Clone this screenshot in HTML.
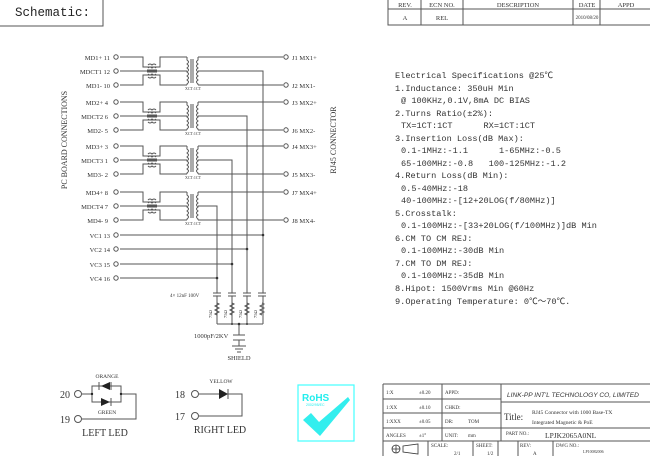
<!DOCTYPE html>
<html><head><meta charset="utf-8"><style>
html,body{margin:0;padding:0;background:#fff;}
svg{display:block;}
text{font-family:"Liberation Serif","Noto Serif CJK SC",serif;fill:#333;white-space:pre;}
text.m, .m text{font-family:"Liberation Mono","Noto Sans CJK SC",monospace;}
text.s{font-family:"Liberation Sans",sans-serif;}
</style></head><body>
<svg width="650" height="456" viewBox="0 0 650 456" xmlns="http://www.w3.org/2000/svg">
<defs>
<g id="pair" fill="none" stroke="#555" stroke-width="1">
  <path d="M120 0 H143 V10 H160 V0 H187"/>
  <path d="M120 28 H143 V18 H160 V28 H187"/>
  <path d="M120 14 H187"/>
  <path d="M148 8 q2 -2 4 0 q2 -2 4 0 M148 11 q2 -2 4 0 q2 -2 4 0 M148 17 q2 2 4 0 q2 2 4 0 M148 20 q2 2 4 0 q2 2 4 0"/>
  <path d="M147 13 H157 M147 15 H157"/>
  <path d="M187 0 V3 q3 2 0 4 q3 2 0 4 q3 2 0 4 q3 2 0 4 q3 2 0 4 q3 2 0 4 V28"/>
  <path d="M191 2 V26 M193 2 V26"/>
  <path d="M198 0 V3 q-3 2 0 4 q-3 2 0 4 q-3 2 0 4 q-3 2 0 4 q-3 2 0 4 q-3 2 0 4 V28"/>
  <circle cx="116" cy="0" r="2.2" fill="#fff"/>
  <circle cx="116" cy="14" r="2.2" fill="#fff"/>
  <circle cx="116" cy="28" r="2.2" fill="#fff"/>
</g>
</defs>
<rect x="-1" y="-1" width="104" height="27" fill="none" stroke="#555"/>
<text x="15" y="16" class="m" font-size="12.5" style="fill:#222">Schematic:</text>

<g stroke="#555" fill="none" stroke-width="1">
<path d="M388 0 V25 H650 M388 9 H650 M421 0 V25 M463 0 V25 M573 0 V25 M600 0 V25"/>
</g>
<g font-size="6.5" text-anchor="middle">
<text x="405" y="7">REV.</text><text x="442" y="7">ECN NO.</text><text x="518" y="7">DESCRIPTION</text><text x="587" y="7">DATE</text><text x="626" y="7">APPD</text>
<text x="405" y="20">A</text><text x="442" y="20">REL</text><text x="587" y="19" font-size="5">2010/08/20</text>
</g>

<use href="#pair" transform="translate(0,57)"/>
<use href="#pair" transform="translate(0,102)"/>
<use href="#pair" transform="translate(0,146)"/>
<use href="#pair" transform="translate(0,192)"/>
<g font-size="4" text-anchor="middle"><text x="193" y="90">XCT:1CT</text><text x="193" y="135">XCT:1CT</text><text x="193" y="179">XCT:1CT</text><text x="193" y="225">XCT:1CT</text></g>

<g fill="none" stroke="#555" stroke-width="1">
<path d="M198 57 H283 M198 85 H283 M198 102 H283 M198 130 H283 M198 146 H283 M198 174 H283 M198 192 H283 M198 220 H283"/>
<path d="M198 71 H263 V324 M198 116 H247 V324 M198 160 H232 V324 M198 206 H217 V324"/>
<path d="M120 235 H263 M120 249 H247 M120 264 H232 M120 278 H217"/>
<path d="M217 324 H263 M239 324 V335 M239 340 V346 M233 335 H245 M233 340 H245 M232 346 H246 M235 349 H243 M237 352 H241"/>
<path d="M213 293 H221 M213 296 H221 M228 293 H236 M228 296 H236 M243 293 H251 M243 296 H251 M258 293 H266 M258 296 H266"/>
</g>
<rect x="214" y="293.6" width="52" height="1.8" fill="#fff"/>
<g fill="none" stroke="#555" stroke-width="1">
<path d="M217 303 l2 1 l-4 2 l4 2 l-4 2 l4 2 l-4 2 l2 1"/>
<path d="M232 303 l2 1 l-4 2 l4 2 l-4 2 l4 2 l-4 2 l2 1"/>
<path d="M247 303 l2 1 l-4 2 l4 2 l-4 2 l4 2 l-4 2 l2 1"/>
<path d="M262 303 l2 1 l-4 2 l4 2 l-4 2 l4 2 l-4 2 l2 1"/>
</g>
<g fill="#333"><circle cx="263" cy="235" r="1.3"/><circle cx="247" cy="249" r="1.3"/><circle cx="232" cy="264" r="1.3"/><circle cx="217" cy="278" r="1.3"/><circle cx="239" cy="324" r="1.3"/><circle cx="232" cy="324" r="1"/><circle cx="247" cy="324" r="1"/></g>
<g font-size="4.5">
<text transform="translate(212,318) rotate(-90)">75Ω</text><text transform="translate(227,318) rotate(-90)">75Ω</text><text transform="translate(242,318) rotate(-90)">75Ω</text><text transform="translate(257,318) rotate(-90)">75Ω</text>
</g>
<text x="170" y="297" font-size="5">4× 12nF 100V</text>
<text x="194" y="338" font-size="6.5">1000pF/2KV</text>
<text x="239" y="360" font-size="6.5" text-anchor="middle">SHIELD</text>

<g fill="#fff" stroke="#555"><circle cx="286" cy="57" r="2.2"/><circle cx="286" cy="85" r="2.2"/><circle cx="286" cy="102" r="2.2"/><circle cx="286" cy="130" r="2.2"/><circle cx="286" cy="146" r="2.2"/><circle cx="286" cy="174" r="2.2"/><circle cx="286" cy="192" r="2.2"/><circle cx="286" cy="220" r="2.2"/>
<circle cx="116" cy="235" r="2.2"/><circle cx="116" cy="249" r="2.2"/><circle cx="116" cy="264" r="2.2"/><circle cx="116" cy="278" r="2.2"/></g>
<g font-size="6.5">
<text x="292" y="60">J1 MX1+</text><text x="292" y="88">J2 MX1-</text><text x="292" y="105">J3 MX2+</text><text x="292" y="133">J6 MX2-</text><text x="292" y="149">J4 MX3+</text><text x="292" y="177">J5 MX3-</text><text x="292" y="195">J7 MX4+</text><text x="292" y="223">J8 MX4-</text>
</g>
<g font-size="6.5" text-anchor="end">
<text x="110" y="60">MD1+ 11</text><text x="110" y="74">MDCT1 12</text><text x="110" y="88">MD1- 10</text>
<text x="108" y="105">MD2+ 4</text><text x="108" y="119">MDCT2 6</text><text x="108" y="133">MD2- 5</text>
<text x="108" y="149">MD3+ 3</text><text x="108" y="163">MDCT3 1</text><text x="108" y="177">MD3- 2</text>
<text x="108" y="195">MD4+ 8</text><text x="108" y="209">MDCT4 7</text><text x="108" y="223">MD4- 9</text>
<text x="110" y="238">VC1 13</text><text x="110" y="252">VC2 14</text><text x="110" y="267">VC3 15</text><text x="110" y="281">VC4 16</text>
</g>
<text transform="translate(67,140) rotate(-90)" font-size="8" text-anchor="middle">PC BOARD CONNECTIONS</text>
<text transform="translate(336,140) rotate(-90)" font-size="8" text-anchor="middle">RJ45 CONNECTOR</text>

<g class="m" font-size="8.6">
<text x="395" y="78">Electrical Specifications @25℃</text>
<text x="395" y="91">1.Inductance: 350uH Min</text>
<text x="401" y="103">@ 100KHz,0.1V,8mA DC BIAS</text>
<text x="395" y="116">2.Turns Ratio(±2%):</text>
<text x="401" y="128">TX=1CT:1CT      RX=1CT:1CT</text>
<text x="395" y="141">3.Insertion Loss(dB Max):</text>
<text x="401" y="153">0.1-1MHz:-1.1      1-65MHz:-0.5</text>
<text x="401" y="166">65-100MHz:-0.8   100-125MHz:-1.2</text>
<text x="395" y="178">4.Return Loss(dB Min):</text>
<text x="401" y="191">0.5-40MHz:-18</text>
<text x="401" y="203">40-100MHz:-[12+20LOG(f/80MHz)]</text>
<text x="395" y="216">5.Crosstalk:</text>
<text x="401" y="228">0.1-100MHz:-[33+20LOG(f/100MHz)]dB Min</text>
<text x="395" y="241">6.CM TO CM REJ:</text>
<text x="401" y="253">0.1-100MHz:-30dB Min</text>
<text x="395" y="266">7.CM TO DM REJ:</text>
<text x="401" y="278">0.1-100MHz:-35dB Min</text>
<text x="395" y="291">8.Hipot: 1500Vrms Min @60Hz</text>
<text x="395" y="304">9.Operating Temperature: 0℃～70℃.</text>
</g>

<g fill="none" stroke="#555" stroke-width="1">
<circle cx="78" cy="394" r="3.5"/><circle cx="78" cy="419" r="3.5"/>
<path d="M82 394 H92 M92 386 H121 V402 H92 Z M121 394 H136 V419 H82"/>
<circle cx="195" cy="394" r="3.5"/><circle cx="195" cy="416" r="3.5"/>
<path d="M199 394 H242 V416 H199"/>
<path d="M111 382 V390 M99 382 V390 M111 398 V406"/>
<path d="M228 389 V399"/>
</g>
<g fill="#222">
<path d="M101 386 L110 382 V390 Z"/><path d="M101 398 L110 402 L101 406 Z"/><path d="M219 389 L228 394 L219 399 Z"/>
<circle cx="92" cy="394" r="1.2"/><circle cx="121" cy="394" r="1.2"/>
</g>
<g font-size="5.5" text-anchor="middle"><text x="107" y="378">ORANGE</text><text x="107" y="414">GREEN</text><text x="221" y="383">YELLOW</text></g>
<g font-size="10"><text x="60" y="398">20</text><text x="60" y="423">19</text><text x="175" y="398">18</text><text x="175" y="420">17</text>
<text x="105" y="436" text-anchor="middle">LEFT LED</text><text x="220" y="433" text-anchor="middle">RIGHT LED</text></g>

<rect x="298" y="385" width="56" height="56" fill="none" stroke="#4ff" stroke-width="1.2"/>
<text x="302" y="401" class="s" font-weight="bold" font-size="10" style="fill:#2ee">RoHS</text>
<text x="306" y="406" class="s" font-size="3.5" style="fill:#2ee">2002/95/EC</text>
<path d="M303 420 L311 413 L319 422 L348 397 L350 400 L320 436 Z" fill="#3ee"/>

<g fill="none" stroke="#555" stroke-width="1">
<path d="M383 384 H650 M383 384 V456 M383 399 H501 M383 413 H501 M383 428 H650 M383 441 H650 M442 384 V441 M501 384 V441 M501 402 H650 M428 441 V456 M473 441 V456 M498 441 V456 M518 441 V456 M553 441 V456"/>
</g>
<g font-size="5">
<text x="386" y="394">1:X</text><text x="419" y="394">±0.20</text><text x="445" y="394">APPD:</text>
<text x="386" y="409">1:XX</text><text x="419" y="409">±0.10</text><text x="445" y="409">CHKD:</text>
<text x="386" y="423">1:XXX</text><text x="419" y="423">±0.05</text><text x="445" y="423">DR:</text><text x="468" y="423">TOM</text>
<text x="386" y="437">ANGLES</text><text x="419" y="437">±1°</text><text x="445" y="437">UNIT:</text><text x="468" y="437">mm</text>
<text x="431" y="447">SCALE:</text><text x="454" y="455">2/1</text><text x="476" y="447">SHEET:</text><text x="487" y="455">1/2</text>
<text x="520" y="447">REV:</text><text x="533" y="455">A</text><text x="556" y="447">DWG NO.:</text><text x="583" y="453" font-size="4">LP10082006</text>
<text x="506" y="435">PART NO.:</text>
</g>
<text x="507" y="397" class="s" font-style="italic" font-size="6.6">LINK-PP INT'L TECHNOLOGY CO, LIMITED</text>
<text x="504" y="420" font-size="9">Title:</text>
<text x="532" y="414" font-size="5.5">RJ45 Connector with 1000 Base-TX</text>
<text x="532" y="424" font-size="5.5">Integrated Magnetic &amp; PoE</text>
<text x="545" y="438" font-size="7.5">LPJK2065A0NL</text>
<g fill="none" stroke="#333" stroke-width="0.8"><circle cx="396" cy="449" r="4"/><path d="M392 449 H400 M396 445 V453 M403 446 L418 444 V454 L403 452 Z"/></g>
</svg>
</body></html>
